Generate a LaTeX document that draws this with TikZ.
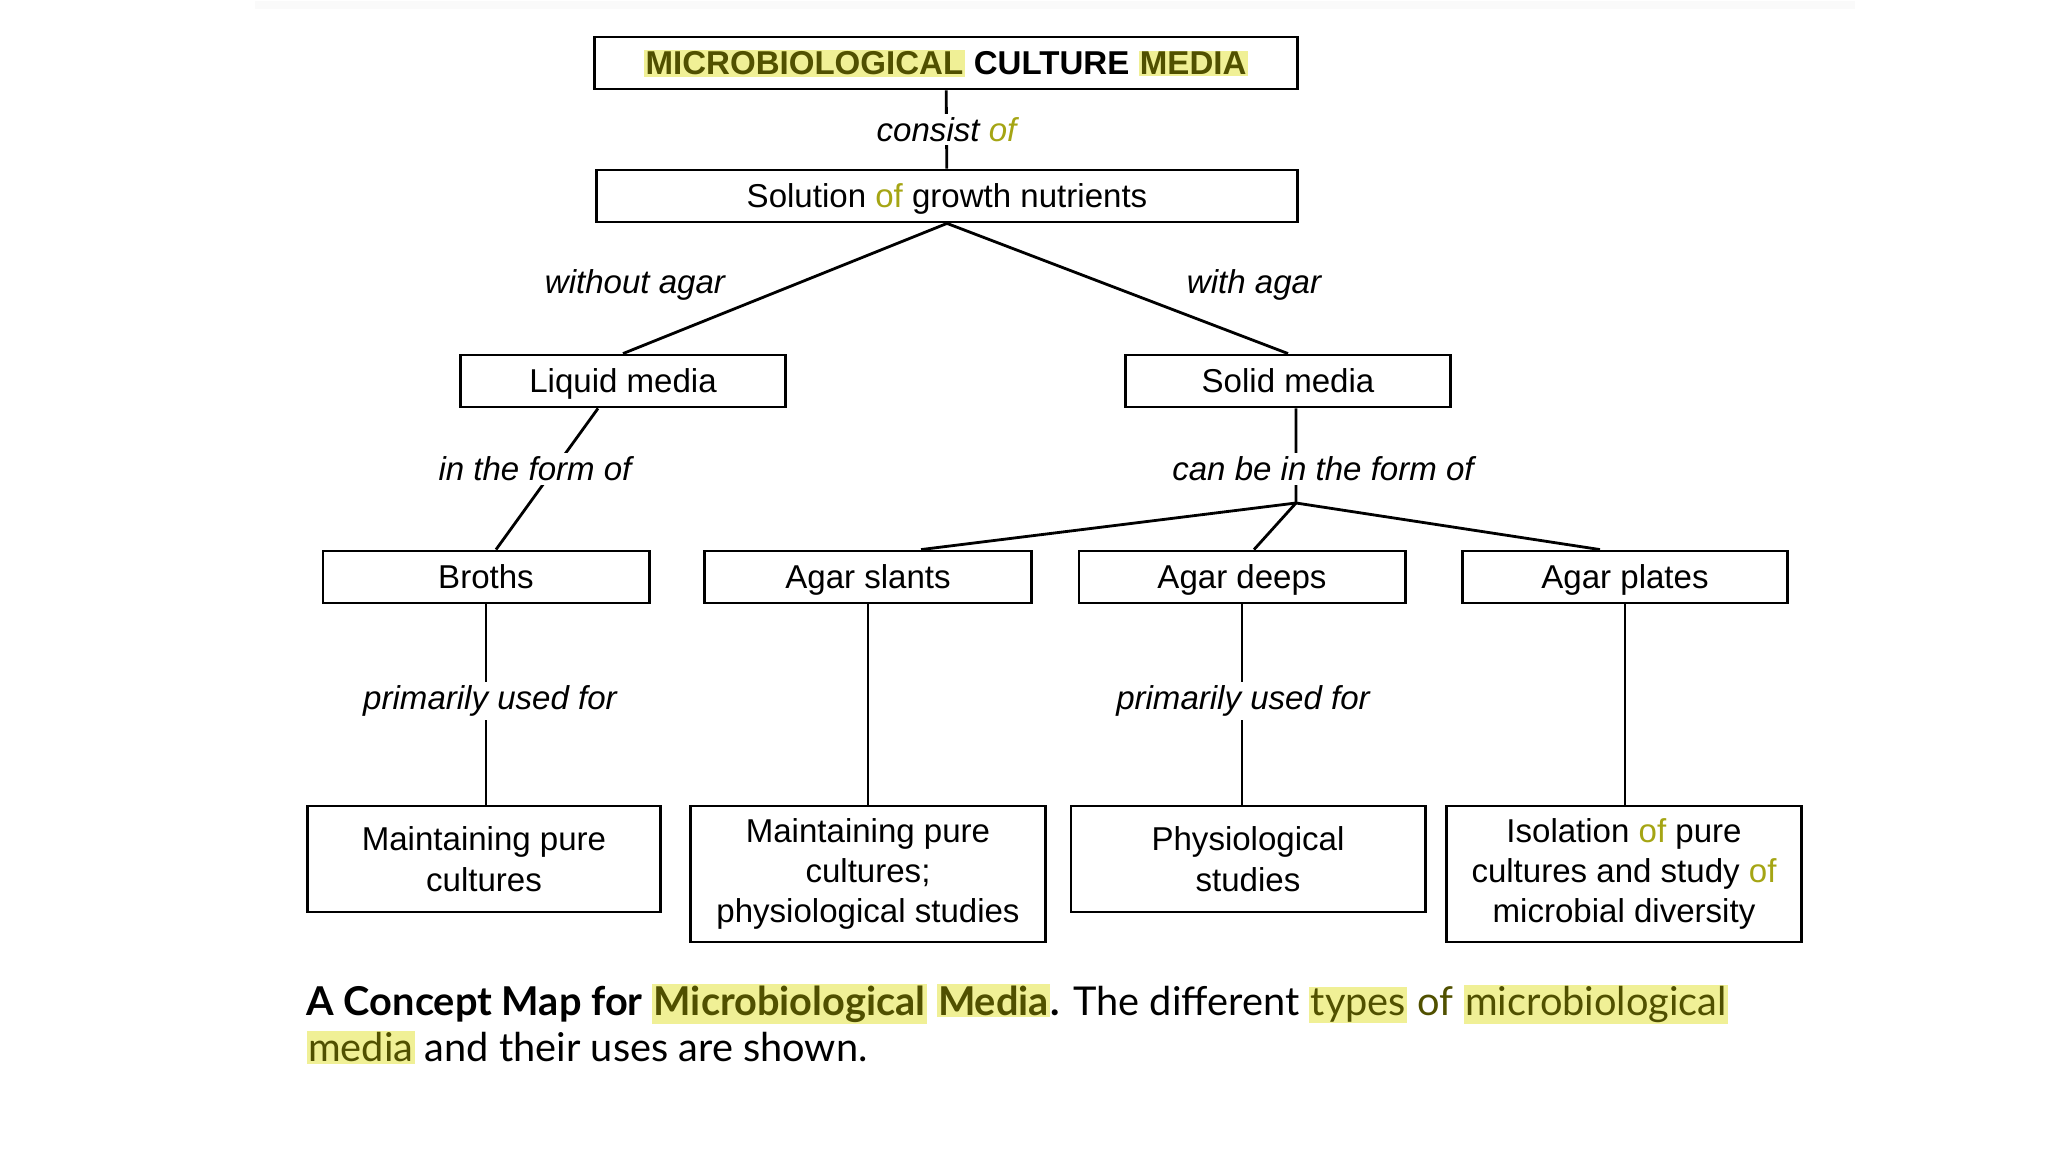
\documentclass[tikz,border=0pt]{standalone}
\usepackage{fontspec}
\setmainfont{Liberation Sans}
\newfontfamily\capfont{Lato}
\definecolor{hlback}{RGB}{240,240,150}
\definecolor{hltext}{RGB}{80,80,0}
\definecolor{ofcol}{RGB}{165,165,20}
\newcommand{\hlword}[1]{{\setlength{\fboxsep}{0.4pt}\colorbox{hlback}{\textcolor{hltext}{#1}}}}
\newcommand{\ofword}{\textcolor{ofcol}{of}}

\begin{document}
\begin{tikzpicture}[x=0.01cm,y=-0.01cm,
  box/.style={draw,line width=0.8pt,inner sep=1pt,align=center,font=\fontsize{9.4}{11.5}\selectfont},
  onebox/.style={box,minimum height=0.52cm,text height=6.7pt,text depth=0pt},
  rel/.style={fill=white,inner sep=1pt,font=\fontsize{9.4}{11.5}\selectfont\itshape},
  link/.style={line width=0.8pt}]
  \useasboundingbox (0,0) rectangle (2048,1152);
  \draw[black!2,line width=2pt] (255,5) -- (1855,5);

  \node[onebox,minimum width=7.03cm] (top) at (946,63) {\textbf{\hlword{MICROBIOLOGICAL} CULTURE \hlword{MEDIA}}};
  \node[onebox,minimum width=7.00cm] (sol) at (947,196) {Solution \ofword{} growth nutrients};
  \node[onebox,minimum width=3.25cm] (liquid) at (623,381) {Liquid media};
  \node[onebox,minimum width=3.25cm] (solid) at (1288,381) {Solid media};
  \node[onebox,minimum width=3.26cm] (broths) at (486,577) {Broths};
  \node[onebox,minimum width=3.27cm] (slants) at (868,577) {Agar slants};
  \node[onebox,minimum width=3.26cm] (deeps) at (1242,577) {Agar deeps};
  \node[onebox,minimum width=3.25cm] (plates) at (1625,577) {Agar plates};
  \node[box,minimum width=3.53cm,minimum height=1.06cm] (use1) at (484,859) {Maintaining pure\\cultures};
  \node[box,minimum width=3.55cm,minimum height=1.36cm] (use2) at (868,874) {Maintaining pure\\cultures;\\physiological studies};
  \node[box,minimum width=3.54cm,minimum height=1.06cm] (use3) at (1248,859) {Physiological\\studies};
  \node[box,minimum width=3.55cm,minimum height=1.36cm] (use4) at (1624,874) {Isolation \ofword{} pure\\cultures and study \ofword\\microbial diversity};

  \draw[link] (top) -- (sol) node[rel,midway] (consist) {consist \ofword};
  \draw[link] (sol.south) -- (liquid.north);
  \draw[link] (sol.south) -- (solid.north);
  \node[rel,fill=none] (without) at (635,285) {without agar};
  \node[rel,fill=none] (with) at (1254,285) {with agar};
  \draw[link] ([xshift=-0.25cm]liquid.south) -- ([xshift=0.1cm]broths.north);
  \node[rel] (form) at (535,469) {in the form of};

  \coordinate (fork) at (1296,503);
  \draw[link] ([xshift=0.08cm]solid.south) -- (fork);
  \node[rel] (canbe) at (1323,469) {can be in the form of};
  \foreach \b/\dx in {slants/0.53,deeps/0.12,plates/-0.25}
    \draw[link] (fork) -- ([xshift=\dx cm]\b.north);

  \foreach \a/\b in {broths/use1,slants/use2,deeps/use3,plates/use4}
    \draw[link] (\a.south) -- (\a.south |- \b.north);
  \node[rel] (used1) at (490,701) {primarily used for};
  \node[rel] (used2) at (1243,701) {primarily used for};

  \node[anchor=west,align=left,inner sep=0pt,font=\capfont\fontsize{11.3}{13.3}\selectfont] (caption) at (306,1024)
    {\textbf{A Concept Map for \hlword{Microbiological} \hlword{Media}.} The different \hlword{types} \textcolor{hltext}{of} \hlword{microbiological}\\
     \hlword{media} and their uses are shown.};
\end{tikzpicture}
\end{document}
